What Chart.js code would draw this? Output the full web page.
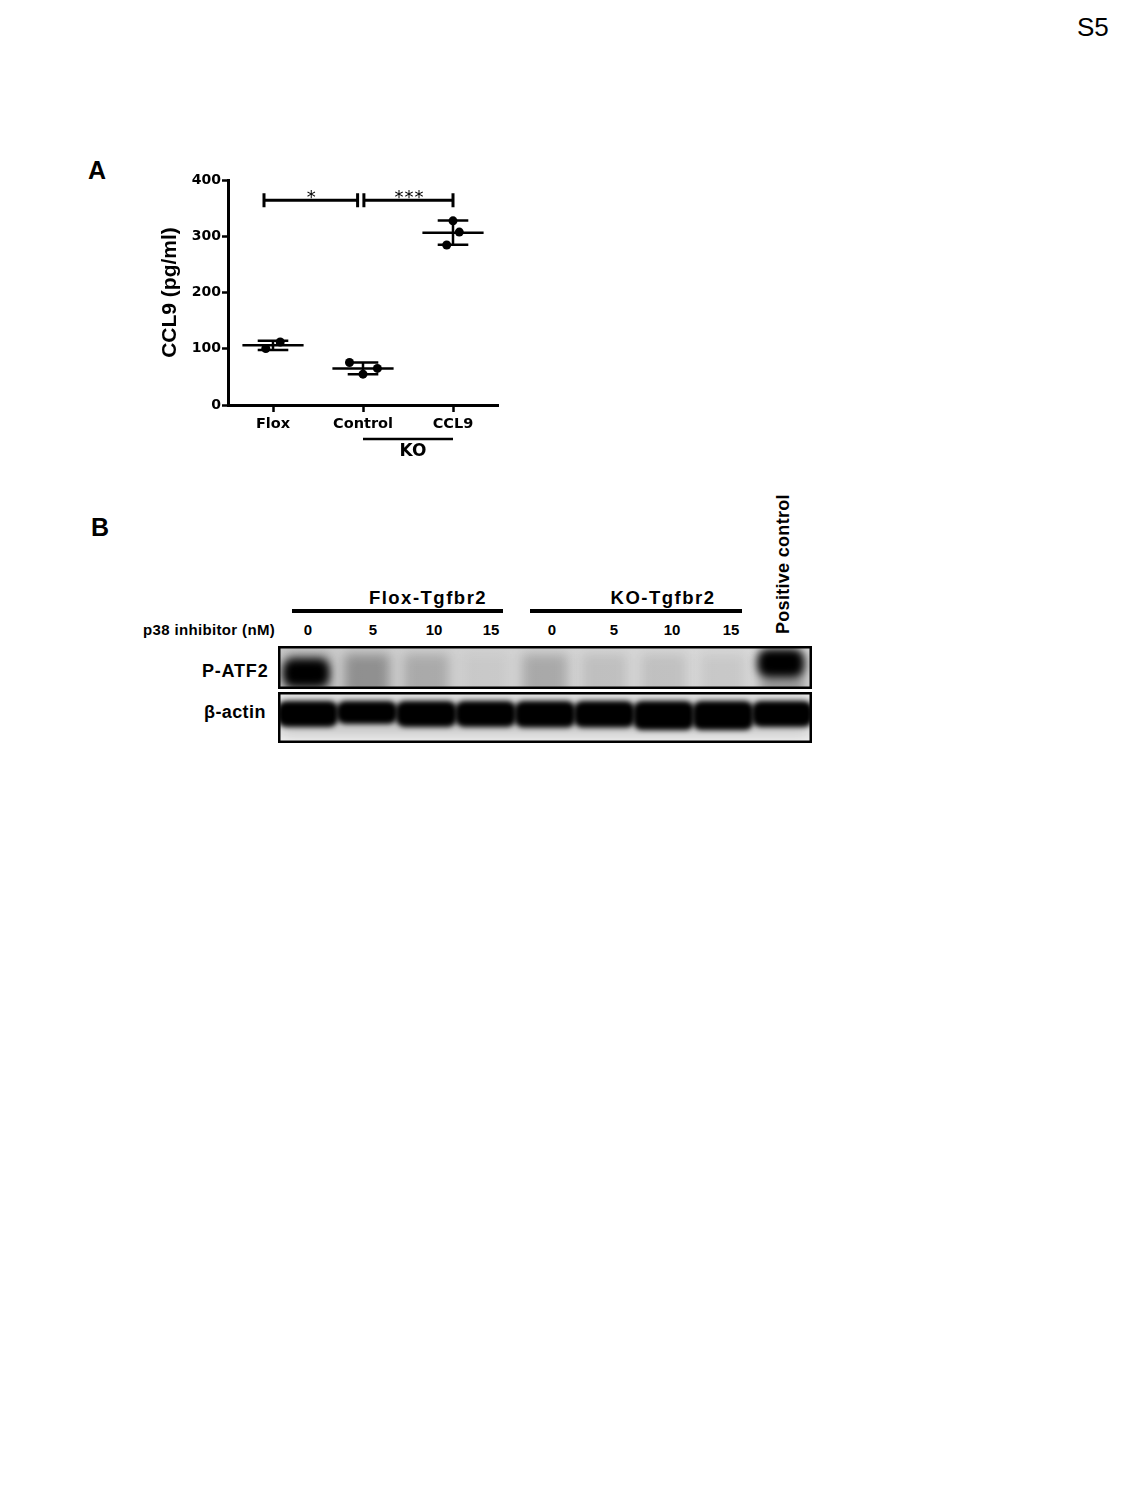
<!DOCTYPE html>
<html>
<head>
<meta charset="utf-8">
<script src="https://cdn.jsdelivr.net/npm/chart.js@4.4.1/dist/chart.umd.min.js"></script>
<style>
  body { margin: 0; background: #fff; width: 1130px; height: 1504px; position: relative; overflow: hidden;
         font-family: "Liberation Sans", Arial, sans-serif; color: #000; }
  .t { position: absolute; white-space: nowrap; line-height: 1; }
  .b { font-weight: bold; }
  .c { transform: translateX(-50%); }
  .rule { position: absolute; background: #000; height: 4px; }
  #chartA { position: absolute; left: 150px; top: 160px; }
  #blot { position: absolute; left: 278px; top: 646px; }
</style>
</head>
<body>
<div class="t" style="left:1077px;top:14px;font-size:26px;">S5</div>
<div class="t b" style="left:88px;top:158px;font-size:25px;">A</div>
<div class="t b" style="left:91px;top:515px;font-size:25px;">B</div>

<canvas id="chartA" width="360" height="310"></canvas>

<div class="t b c" style="left:428px;top:589px;font-size:18.5px;letter-spacing:1.5px;">Flox-Tgfbr2</div>
<div class="t b c" style="left:663px;top:589px;font-size:18.5px;letter-spacing:1.5px;">KO-Tgfbr2</div>
<div class="rule" style="left:292px;top:609px;width:211px;"></div>
<div class="rule" style="left:530px;top:609px;width:212px;"></div>
<div class="t b" style="left:143px;top:622px;font-size:15px;letter-spacing:0.35px;">p38 inhibitor (nM)</div>
<div id="doses"></div>
<div class="t b" id="posCtrl" style="left:774px;top:634px;font-size:18px;letter-spacing:0.3px;transform-origin:0 0;transform:rotate(-90deg);"></div>
<div class="t b" style="left:202px;top:662px;font-size:18px;letter-spacing:0.8px;">P-ATF2</div>
<div class="t b" style="left:204px;top:703px;font-size:18px;letter-spacing:0.4px;">β-actin</div>

<canvas id="blot" width="534" height="97"></canvas>

<script>
// panel A: CCL9 ELISA
const groups = ['Flox', 'Control', 'CCL9'];
const floxValues = [100.4, 112.0];
const controlValues = [75.5, 54.8, 65.0];
const ccl9Values = [327.4, 307.4, 284.4];
const pointJitter = [[-0.08, 0.08], [-0.15, 0, 0.16], [0, 0.07, -0.07]];
const yTickValues = [0, 100, 200, 300, 400];
const comparisons = [[0, 1], [1, 2]];
const significance = ['*', '***'];
const bracketLevel = 364;
const koGroups = [1, 2];

// panel B: western blot lanes
const lanes = ['0', '5', '10', '15', '0', '5', '10', '15', 'Positive control'];
const atf2Signal = [1.0, 0.32, 0.18, 0.04, 0.2, 0.1, 0.1, 0.07, 1.0];
const actinSignal = [1.0, 0.88, 1.0, 1.0, 1.02, 1.02, 1.12, 1.12, 1.0];

const groupValues = [floxValues, controlValues, ccl9Values];
const mean = a => a.reduce((s, v) => s + v, 0) / a.length;
const sd = a => { const m = mean(a); return Math.sqrt(a.reduce((s, v) => s + (v - m) ** 2, 0) / (a.length - 1)); };

const points = groupValues.flatMap((vals, g) => vals.map((v, k) => ({ x: g + pointJitter[g][k], y: v })));
const bracketPads = [[-0.1, -0.06], [0.01, 0]];

const summaryPlugin = {
  id: 'summary',
  beforeDatasetsDraw(chart) {
    const { ctx, scales: { x, y } } = chart;
    ctx.save();
    ctx.strokeStyle = '#000';
    ctx.lineWidth = 2.5;
    groupValues.forEach((vals, g) => {
      const m = mean(vals), s = sd(vals);
      const cx = x.getPixelForValue(g);
      const mw = x.getPixelForValue(g + 0.34) - cx;
      const cw = x.getPixelForValue(g + 0.17) - cx;
      const ym = y.getPixelForValue(m), yt = y.getPixelForValue(m + s), yb = y.getPixelForValue(m - s);
      ctx.beginPath();
      ctx.moveTo(cx - mw, ym); ctx.lineTo(cx + mw, ym);
      ctx.moveTo(cx - cw, yt); ctx.lineTo(cx + cw, yt);
      ctx.moveTo(cx - cw, yb); ctx.lineTo(cx + cw, yb);
      ctx.moveTo(cx, yt); ctx.lineTo(cx, yb);
      ctx.stroke();
    });
    ctx.restore();
  },
  afterDraw(chart) {
    const { ctx, chartArea, scales: { x, y } } = chart;
    ctx.save();
    ctx.strokeStyle = '#000';
    ctx.fillStyle = '#000';
    comparisons.forEach(([a, b], i) => {
      const x0 = x.getPixelForValue(a + bracketPads[i][0]);
      const x1 = x.getPixelForValue(b + bracketPads[i][1]);
      const yy = y.getPixelForValue(bracketLevel);
      ctx.lineWidth = 3;
      ctx.beginPath();
      ctx.moveTo(x0, yy); ctx.lineTo(x1, yy);
      ctx.moveTo(x0, yy - 7); ctx.lineTo(x0, yy + 7);
      ctx.moveTo(x1, yy - 7); ctx.lineTo(x1, yy + 7);
      ctx.stroke();
      ctx.font = '18px "DejaVu Sans"';
      ctx.letterSpacing = '1px';
      ctx.textAlign = 'center';
      ctx.textBaseline = 'alphabetic';
      ctx.fillText(significance[i], (x0 + x1) / 2 + 1, yy + 3);
    });
    ctx.letterSpacing = '0px';
    const k0 = x.getPixelForValue(koGroups[0]), k1 = x.getPixelForValue(koGroups[1]);
    const ky = chartArea.bottom + 34;
    ctx.lineWidth = 2.5;
    ctx.beginPath();
    ctx.moveTo(k0, ky); ctx.lineTo(k1, ky);
    ctx.stroke();
    ctx.font = 'bold 17px "DejaVu Sans"';
    ctx.textAlign = 'center';
    ctx.textBaseline = 'middle';
    ctx.fillText('KO', (k0 + k1) / 2 + 5, ky + 13);
    ctx.restore();
  }
};

const axisFont = { family: 'DejaVu Sans', weight: 'bold' };

new Chart(document.getElementById('chartA'), {
  type: 'scatter',
  data: { datasets: [{ data: points, backgroundColor: '#000', borderWidth: 0, pointRadius: 4.5, pointHoverRadius: 4.5 }] },
  options: {
    responsive: false,
    animation: false,
    events: [],
    layout: { padding: { top: 20, right: 12, left: 0, bottom: 0 } },
    plugins: { legend: { display: false }, tooltip: { enabled: false } },
    scales: {
      x: {
        type: 'linear', min: -0.5, max: 2.5,
        afterBuildTicks: s => { s.ticks = groups.map((_, i) => ({ value: i })); },
        afterFit: s => { s.height = 65; },
        ticks: { callback: v => groups[v], color: '#000', font: { ...axisFont, size: 14.5 }, padding: 4, maxRotation: 0, autoSkip: false },
        grid: { drawOnChartArea: false, tickLength: 7, tickWidth: 2.5, tickColor: '#000' },
        border: { color: '#000', width: 3 }
      },
      y: {
        type: 'linear', min: 0, max: 400,
        afterBuildTicks: s => { s.ticks = yTickValues.map(v => ({ value: v })); },
        afterFit: s => { s.width = 78; },
        ticks: { color: '#000', font: { ...axisFont, size: 14 }, padding: 1 },
        grid: { drawOnChartArea: false, tickLength: 6, tickWidth: 2.5, tickColor: '#000' },
        border: { color: '#000', width: 3 },
        title: { display: true, text: 'CCL9 (pg/ml)', color: '#000',
                 font: { family: 'Liberation Sans', weight: 'bold', size: 21 }, padding: { top: 8, bottom: 0 } }
      }
    }
  },
  plugins: [summaryPlugin]
});

// lane labels above the blot
const doseCenters = [308, 373, 434, 491, 552, 614, 672, 731];
document.getElementById('doses').innerHTML = lanes.slice(0, 8).map((d, i) =>
  `<div class="t b c" style="left:${doseCenters[i]}px;top:622px;font-size:15px;">${d}</div>`).join('');
document.getElementById('posCtrl').textContent = lanes[8];

const blotPlugin = {
  id: 'blot',
  beforeDatasetsDraw(chart) {
    const { ctx, scales: { x, y } } = chart;
    const left = x.getPixelForValue(-0.5), right = x.getPixelForValue(lanes.length - 0.5);
    const laneW = x.getPixelForValue(1) - x.getPixelForValue(0);
    const panel = (top, bottom, draw) => {
      const t = y.getPixelForValue(top), b = y.getPixelForValue(bottom);
      ctx.save();
      ctx.beginPath();
      ctx.rect(left + 2, t + 2, right - left - 4, b - t - 4);
      ctx.clip();
      draw(t, b);
      ctx.restore();
      ctx.save();
      ctx.lineWidth = 2.5;
      ctx.strokeStyle = '#000';
      ctx.strokeRect(left + 1.25, t + 1.25, right - left - 2.5, b - t - 2.5);
      ctx.restore();
    };

    // P-ATF2
    panel(0, 43, (t, b) => {
      const g = ctx.createLinearGradient(left, 0, right, 0);
      g.addColorStop(0, '#cbcbcb');
      g.addColorStop(0.5, '#d4d4d4');
      g.addColorStop(1, '#dadada');
      ctx.fillStyle = g;
      ctx.fillRect(left, t, right - left, b - t);
      ctx.filter = 'blur(6px)';
      atf2Signal.forEach((s, i) => {
        const cx = x.getPixelForValue(i);
        ctx.fillStyle = `rgba(0,0,0,${Math.min(s, 0.3)})`;
        ctx.fillRect(cx - laneW * 0.38, t + 8, laneW * 0.76, b - t);
      });
      ctx.filter = 'blur(4px)';
      atf2Signal.forEach((s, i) => {
        if (s < 0.5) return;
        const cx = x.getPixelForValue(i);
        const top = i === lanes.length - 1 ? t + 3 : t + 13;
        ctx.fillStyle = `rgba(0,0,0,${s})`;
        ctx.beginPath();
        ctx.roundRect(cx - laneW * 0.4 - 1, top, laneW * 0.78, 28, 10);
        ctx.fill();
      });
      ctx.filter = 'none';
    });

    // beta-actin
    panel(46, 97, (t, b) => {
      ctx.fillStyle = '#f6f6f6';
      ctx.fillRect(left, t, right - left, b - t);
      ctx.filter = 'blur(8px)';
      ctx.fillStyle = 'rgba(0,0,0,0.2)';
      ctx.fillRect(left, t + 4, right - left, 40);
      ctx.filter = 'blur(2.5px)';
      ctx.fillStyle = '#000';
      actinSignal.forEach((s, i) => {
        const cx = x.getPixelForValue(i);
        const h = 26 * s;
        ctx.beginPath();
        ctx.roundRect(cx - laneW * 0.5 - 1, t + 9, laneW + 2, h, 9);
        ctx.fill();
      });
      ctx.filter = 'none';
    });
  }
};

new Chart(document.getElementById('blot'), {
  type: 'scatter',
  data: { datasets: [
    { label: 'P-ATF2', data: atf2Signal.map((s, i) => ({ x: i, y: 20 })), pointRadius: 0 },
    { label: 'β-actin', data: actinSignal.map((s, i) => ({ x: i, y: 70 })), pointRadius: 0 }
  ] },
  options: {
    responsive: false,
    animation: false,
    events: [],
    layout: { padding: 0 },
    plugins: { legend: { display: false }, tooltip: { enabled: false } },
    scales: {
      x: { type: 'linear', min: -0.5, max: lanes.length - 0.5, display: false },
      y: { type: 'linear', min: 0, max: 97, reverse: true, display: false }
    }
  },
  plugins: [blotPlugin]
});
</script>
</body>
</html>
